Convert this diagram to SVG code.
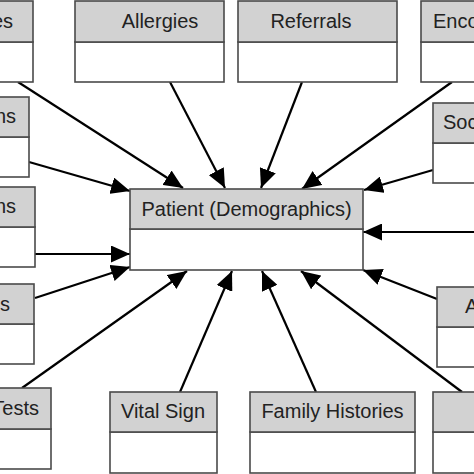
<svg xmlns="http://www.w3.org/2000/svg" width="474" height="474" viewBox="0 0 474 474">
<style>
.hd{fill:#d2d2d2;stroke:#4a4a4a;stroke-width:1.6}
.bd{fill:#ffffff;stroke:#4a4a4a;stroke-width:1.6}
.t{font-family:"Liberation Sans",Arial,sans-serif;font-size:20px;fill:#222}
.c{text-anchor:middle}
.e{text-anchor:end}
.ed{stroke:#000;stroke-width:2.2;fill:none;marker-end:url(#ah)}
</style>
<defs>
<marker id="ah" markerUnits="userSpaceOnUse" markerWidth="19" markerHeight="17" refX="19" refY="8.5" orient="auto">
<path d="M0,0 L19,8.5 L0,17 z" fill="#000"/>
</marker>
</defs>
<rect x="0" y="0" width="474" height="474" fill="#fff"/>
<g id="connectors">
<line class="ed" x1="18" y1="82" x2="183" y2="188"/>
<line class="ed" x1="170" y1="82" x2="225" y2="188"/>
<line class="ed" x1="302" y1="82" x2="261" y2="188"/>
<line class="ed" x1="452" y1="82" x2="302" y2="189"/>
<line class="ed" x1="433" y1="170" x2="364" y2="190"/>
<line class="ed" x1="476" y1="232" x2="363" y2="232"/>
<line class="ed" x1="437" y1="299" x2="363" y2="270"/>
<line class="ed" x1="462" y1="392" x2="301" y2="271"/>
<line class="ed" x1="316" y1="392" x2="262" y2="271"/>
<line class="ed" x1="180" y1="392" x2="232" y2="271"/>
<line class="ed" x1="22" y1="388" x2="187" y2="271"/>
<line class="ed" x1="35" y1="298" x2="130" y2="267"/>
<line class="ed" x1="35" y1="254" x2="130" y2="254"/>
<line class="ed" x1="29" y1="162" x2="130" y2="191"/>
</g>
<g id="patient">
<rect class="bd" x="130" y="229" width="233" height="41"/>
<rect class="hd" x="130" y="189" width="233" height="40"/>
<text class="t c" x="246.5" y="216">Patient (Demographics)</text>
</g>
<g id="node-top-left">
<rect class="bd" x="-120" y="42" width="153" height="40"/>
<rect class="hd" x="-120" y="1" width="153" height="41"/>
<text class="t e" x="13" y="28">es</text>
</g>
<g id="allergies">
<rect class="bd" x="75" y="42" width="149" height="40"/>
<rect class="hd" x="75" y="1" width="149" height="41"/>
<text class="t c" x="160" y="28">Allergies</text>
</g>
<g id="referrals">
<rect class="bd" x="238" y="42" width="159" height="40"/>
<rect class="hd" x="238" y="1" width="159" height="41"/>
<text class="t c" x="311" y="28">Referrals</text>
</g>
<g id="encounters">
<rect class="bd" x="421" y="42" width="120" height="40"/>
<rect class="hd" x="421" y="1" width="120" height="41"/>
<text class="t" x="433" y="28">Enco</text>
</g>
<g id="node-left-2">
<rect class="bd" x="-120" y="137" width="149" height="40"/>
<rect class="hd" x="-120" y="97" width="149" height="40"/>
<text class="t e" x="16" y="123">ns</text>
</g>
<g id="social">
<rect class="bd" x="433" y="143" width="120" height="40"/>
<rect class="hd" x="433" y="103" width="120" height="40"/>
<text class="t" x="443" y="129">Soc</text>
</g>
<g id="node-left-3">
<rect class="bd" x="-120" y="227" width="155" height="40"/>
<rect class="hd" x="-120" y="187" width="155" height="40"/>
<text class="t e" x="16" y="213">ns</text>
</g>
<g id="node-left-4">
<rect class="bd" x="-120" y="324" width="154" height="40"/>
<rect class="hd" x="-120" y="284" width="154" height="40"/>
<text class="t e" x="10" y="311">es</text>
</g>
<g id="node-right-ap">
<rect class="bd" x="437" y="327" width="120" height="40"/>
<rect class="hd" x="437" y="287" width="120" height="40"/>
<text class="t" x="465" y="313">Ap</text>
</g>
<g id="tests">
<rect class="bd" x="-100" y="429" width="151" height="40"/>
<rect class="hd" x="-100" y="388" width="151" height="41"/>
<text class="t e" x="39" y="415">Tests</text>
</g>
<g id="vital-sign">
<rect class="bd" x="110" y="432" width="107" height="41"/>
<rect class="hd" x="110" y="392" width="107" height="40"/>
<text class="t c" x="163" y="418">Vital Sign</text>
</g>
<g id="family-histories">
<rect class="bd" x="250" y="432" width="165" height="41"/>
<rect class="hd" x="250" y="392" width="165" height="40"/>
<text class="t c" x="332.5" y="418">Family Histories</text>
</g>
<g id="node-bottom-right">
<rect class="bd" x="433" y="432" width="120" height="41"/>
<rect class="hd" x="433" y="392" width="120" height="40"/>
</g>
</svg>
